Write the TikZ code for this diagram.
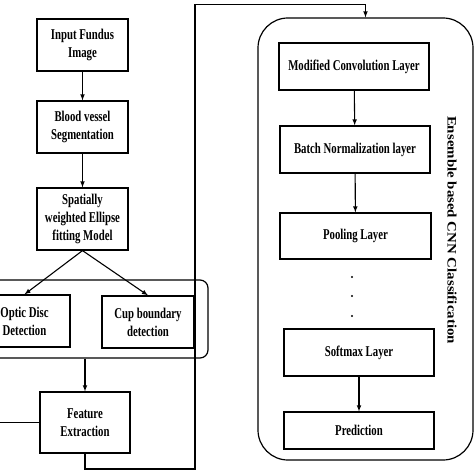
\documentclass[tikz,border=0pt]{standalone}
\usepackage{fontspec}
\setmainfont{Liberation Serif}[FakeStretch=0.72]
\newfontfamily\sidefont{Liberation Serif}[FakeStretch=1.15]
\tikzset{
  >=latex,
}
\tikzstyle{block}=[draw,line width=1.2pt,align=center,inner sep=0pt,font=\bfseries\fontsize{15}{18}\selectfont]
\tikzstyle{group}=[draw,line width=1.2pt,rounded corners=8bp]
\tikzstyle{link}=[line width=1.1pt,->]
\tikzstyle{wire}=[line width=1.1pt]

\begin{document}
\begin{tikzpicture}[x=1bp,y=-1bp]
  \useasboundingbox (0,0) rectangle (474,474);
  \clip (0,0) rectangle (474,474);
  % preprocessing column
  \node[block,minimum width=91bp,minimum height=52bp] (input) at (82.5,45) {Input Fundus\\Image};
  \node[block,minimum width=91bp,minimum height=52bp] (vessel) at (82.5,127) {Blood vessel\\Segmentation};
  \node[block,minimum width=91bp,minimum height=62bp] (ellipse) at (82.5,219) {Spatially\\weighted Ellipse\\fitting Model};
  \node[group,minimum width=220bp,minimum height=78bp] (detect) at (98,319) {};
  \node[block,minimum width=91bp,minimum height=52bp] (optic) at (24.5,321) {Optic Disc\\Detection};
  \node[block,minimum width=92bp,minimum height=52bp] (cup) at (148,322) {Cup boundary\\detection};
  \node[block,minimum width=90bp,minimum height=61bp] (feat) at (85,422.5) {Feature\\Extraction};
  \coordinate (offleft) at (-5,422.5);
  \draw[link] (input) -- (vessel);
  \draw[link] (vessel) -- (ellipse);
  \draw[link] (ellipse.south) -- (optic.north);
  \draw[link] (ellipse.south) -- (cup.north);
  \draw[link] (feat.north |- detect.south) -- (feat.north);
  \draw[wire] (feat.west) -- (offleft);
  % CNN ensemble
  \node[draw,line width=1.2pt,rounded corners=30bp,minimum width=215bp,minimum height=442bp] (ens) at (365.5,239) {};
  \node[block,minimum width=150bp,minimum height=47bp] (conv) at (354,66.5) {Modified Convolution Layer};
  \node[block,minimum width=150bp,minimum height=47bp] (norm) at (355,149.5) {Batch Normalization layer};
  \node[block,minimum width=151bp,minimum height=46bp] (pool) at (355.5,236) {Pooling Layer};
  \node[block,minimum width=150bp,minimum height=47bp] (soft) at (359,352.5) {Softmax Layer};
  \node[block,minimum width=150bp,minimum height=37bp] (pred) at (359,430.5) {Prediction};
  \node[rotate=-90,font=\sidefont\bfseries\fontsize{13}{15}\selectfont] (enslabel) at (452,230) {Ensemble based CNN Classification};
  \foreach \y in {277,296,316}
    \fill (352,\y) circle (1.2bp);
  \draw[link] (conv) -- (norm);
  \draw[link] (norm) -- (pool);
  \draw[link] (soft) -- (pred);
  % feature vector to classifier
  \draw[link] (feat.south) |- (195,469) |- ([yshift=13bp]ens.north) -- (ens.north);
\end{tikzpicture}
\end{document}
